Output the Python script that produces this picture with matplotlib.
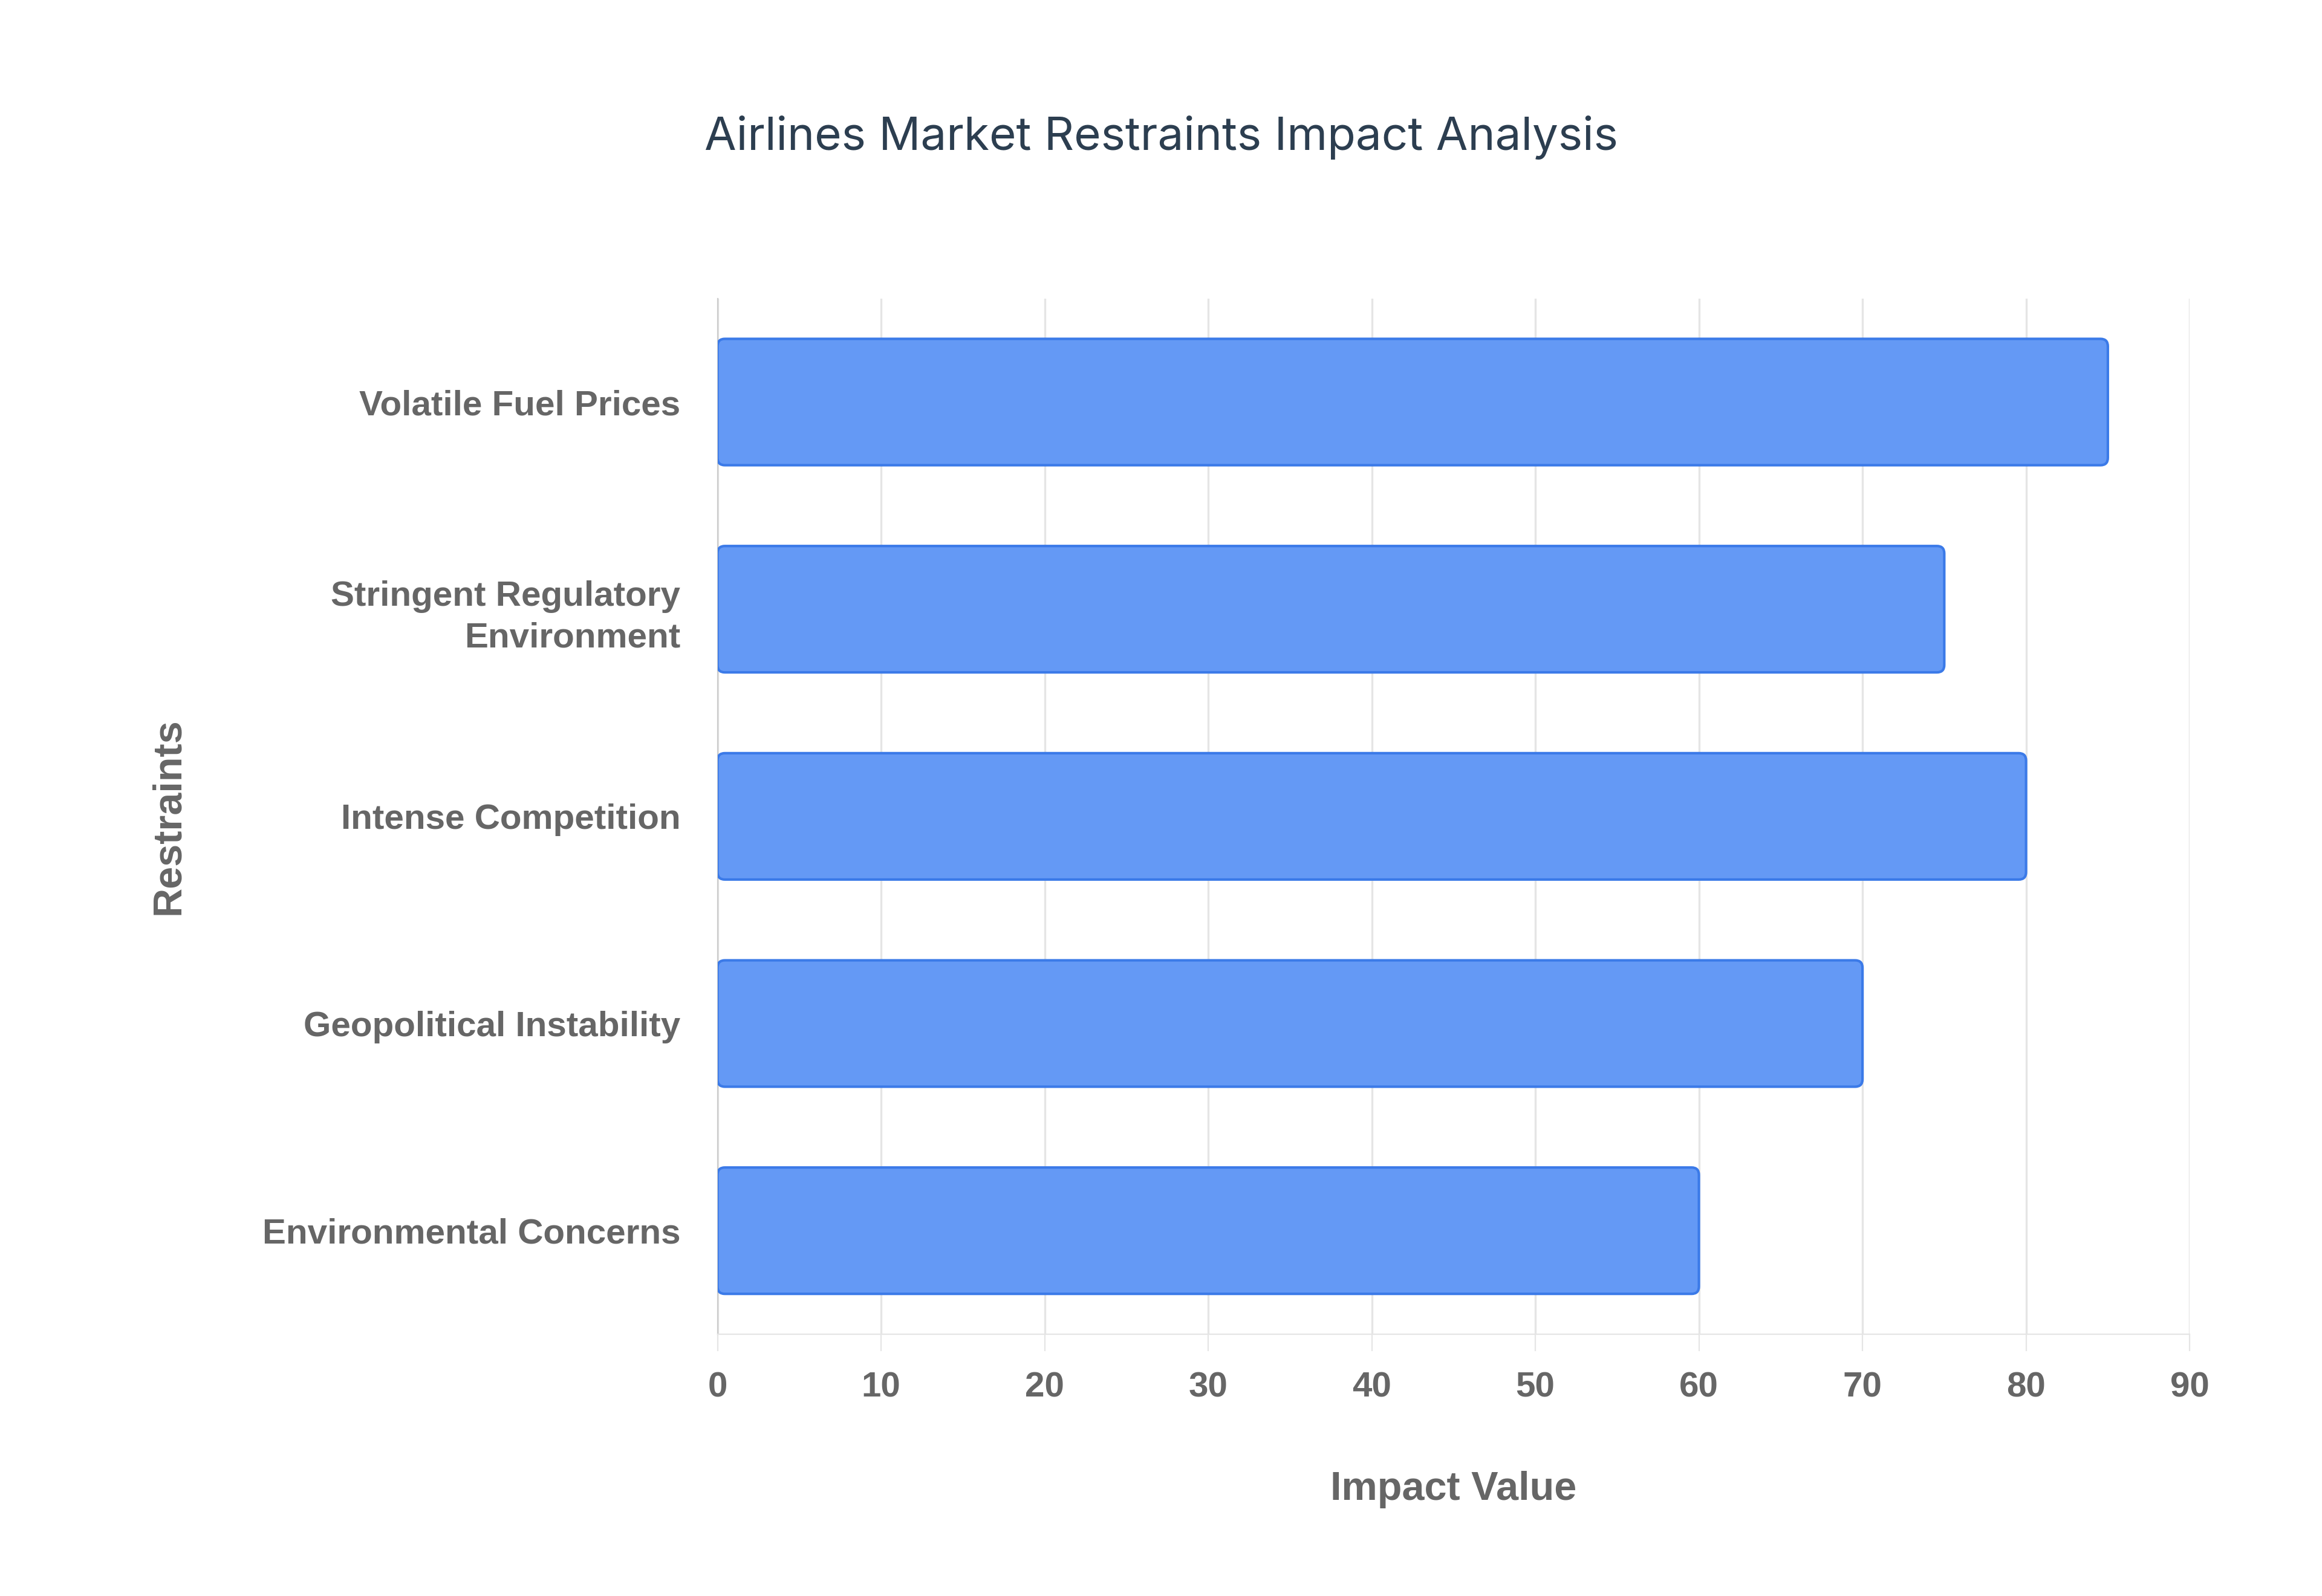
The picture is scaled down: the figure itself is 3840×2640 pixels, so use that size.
import matplotlib
matplotlib.use("Agg")
import matplotlib.pyplot as plt
from matplotlib.patches import FancyBboxPatch

categories = ["Volatile Fuel Prices", "Stringent Regulatory\nEnvironment", "Intense Competition",
              "Geopolitical Instability", "Environmental Concerns"]
values = [85, 75, 80, 70, 60]
xticks = [0, 10, 20, 30, 40, 50, 60, 70, 80, 90]

fig = plt.figure(figsize=(19.2, 13.2), dpi=200)
ax = fig.add_axes([0.309, 0.164, 0.634, 0.649])
bars = ax.barh(range(len(categories)), values, height=0.61, color="none")
for b in bars:
    x, y, w, h = b.get_x(), b.get_y(), b.get_width(), b.get_height()
    b.remove()
    p = FancyBboxPatch((x, y), w, h, boxstyle="round,pad=0,rounding_size=0.45",
                       mutation_aspect=0.08, facecolor="#6499f5", edgecolor="#3b7ae8", linewidth=1.5, zorder=3)
    ax.add_patch(p)
ax.set_ylim(4.5, -0.5)
ax.set_xlim(0, 90)
ax.set_xticks(xticks)
ax.set_yticks(range(len(categories)))
ax.set_yticklabels(categories, fontfamily="Liberation Sans", fontweight="bold", fontsize=21,
                   color="#666666", linespacing=1.35)
for t in ax.get_xticklabels():
    t.set_fontfamily("Liberation Sans"); t.set_fontweight("bold"); t.set_fontsize(21); t.set_color("#666666")
ax.tick_params(axis="y", length=0, pad=22)
ax.tick_params(axis="x", length=10, color="#e5e5e5", pad=12)
ax.grid(axis="x", color="#e5e5e5", linewidth=1.2, zorder=0)
ax.set_axisbelow(True)
for s in ["top", "right"]:
    ax.spines[s].set_visible(False)
ax.spines["left"].set_color("#cccccc")
ax.spines["bottom"].set_color("#e5e5e5")
ax.set_xlabel("Impact Value", fontfamily="Liberation Sans", fontweight="bold", fontsize=24, color="#666666", labelpad=40)
ax.set_ylabel("Restraints", fontfamily="Liberation Sans", fontweight="bold", fontsize=24, color="#666666")
ax.yaxis.set_label_coords(-0.36, 0.5)
fig.text(0.5, 0.914, "Airlines Market Restraints Impact Analysis", ha="center", va="center",
         fontfamily="Inter", fontsize=27.5, color="#2c3e50")
fig.savefig("out.png", dpi=200, facecolor="white")
